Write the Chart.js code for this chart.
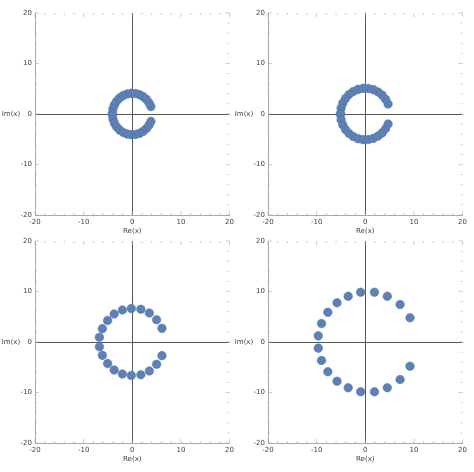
<!DOCTYPE html>
<html>
<head>
<script src="https://cdn.jsdelivr.net/npm/chart.js@4"></script>
<style>
body{margin:0;background:#fff;}
.cell{position:absolute;width:237px;height:236px;}
</style>
</head>
<body>
<div class="cell" style="left:0;top:0"><canvas id="c1" width="237" height="236"></canvas></div>
<div class="cell" style="left:233px;top:0"><canvas id="c2" width="237" height="236"></canvas></div>
<div class="cell" style="left:0;top:228px"><canvas id="c3" width="237" height="236"></canvas></div>
<div class="cell" style="left:233px;top:228px"><canvas id="c4" width="237" height="236"></canvas></div>
<script>
// tick labels shared by every panel
const tickValues = [-20, -10, 0, 10, 20];

// panel 1, r ~ 4
const ptsA = [
 [3.83,1.47],[3.44,2.23],[2.90,2.90],[2.23,3.44],[1.47,3.83],[0.64,4.05],[-0.21,4.09],
 [-1.06,3.96],[-1.86,3.65],[-2.58,3.19],[-3.19,2.58],[-3.65,1.86],[-3.96,1.06],[-4.09,0.21],
 [-4.09,-0.21],[-3.96,-1.06],[-3.65,-1.86],[-3.19,-2.58],[-2.58,-3.19],[-1.86,-3.65],[-1.06,-3.96],
 [-0.21,-4.09],[0.64,-4.05],[1.47,-3.83],[2.23,-3.44],[2.90,-2.90],[3.44,-2.23],[3.83,-1.47]
];
// panel 2, r ~ 5
const ptsB = [
 [4.69,1.99],[4.18,2.93],[3.48,3.73],[2.63,4.37],[1.66,4.82],[0.62,5.06],[-0.44,5.08],
 [-1.49,4.88],[-2.47,4.46],[-3.35,3.85],[-4.07,3.07],[-4.62,2.16],[-4.97,1.15],[-5.10,0.09],
 [-5.10,-0.09],[-4.97,-1.15],[-4.62,-2.16],[-4.07,-3.07],[-3.35,-3.85],[-2.47,-4.46],[-1.49,-4.88],
 [-0.44,-5.08],[0.62,-5.06],[1.66,-4.82],[2.63,-4.37],[3.48,-3.73],[4.18,-2.93],[4.69,-1.99]
];
// panel 3, r ~ 6.6
const ptsC = [
 [6.10,2.70],[5.00,4.40],[3.51,5.74],[1.76,6.49],[-0.20,6.62],[-2.03,6.35],[-3.72,5.54],
 [-5.07,4.26],[-6.15,2.64],[-6.76,0.95],
 [-6.76,-0.95],[-6.15,-2.64],[-5.07,-4.26],[-3.72,-5.54],[-2.03,-6.35],[-0.20,-6.62],
 [1.76,-6.49],[3.51,-5.74],[5.00,-4.40],[6.10,-2.70]
];
// panel 4, r ~ 9.7
const ptsD = [
 [9.19,4.80],[7.16,7.43],[4.53,9.05],[1.89,9.86],[-0.95,9.86],[-3.51,9.05],[-5.81,7.77],
 [-7.70,5.88],[-8.99,3.65],[-9.66,1.22],
 [-9.66,-1.22],[-8.99,-3.65],[-7.70,-5.88],[-5.81,-7.77],[-3.51,-9.05],[-0.95,-9.86],
 [1.89,-9.86],[4.53,-9.05],[7.16,-7.43],[9.19,-4.80]
];

const labelsPlugin = {
  id: 'labels',
  afterDraw(chart) {
    const ctx = chart.ctx, a = chart.chartArea;
    ctx.save();
    ctx.fillStyle = '#444';
    ctx.font = '7px "DejaVu Sans"';
    ctx.textAlign = 'center';
    ctx.textBaseline = 'middle';
    ctx.fillText('Re(x)', (a.left + a.right) / 2, a.bottom + 16);
    ctx.fillText('Im(x)', 11, (a.top + a.bottom) / 2);
    // minor ticks along frame
    ctx.strokeStyle = '#aaa';
    ctx.lineWidth = 0.6;
    const xs = chart.scales.x, ys = chart.scales.y;
    for (let v = -20; v <= 20; v += 2) {
      const len = v % 10 === 0 ? 4 : 2;
      const px = xs.getPixelForValue(v), py = ys.getPixelForValue(v);
      ctx.beginPath();
      ctx.moveTo(px, a.bottom); ctx.lineTo(px, a.bottom - len);
      ctx.moveTo(px, a.top); ctx.lineTo(px, a.top + len);
      ctx.moveTo(a.left, py); ctx.lineTo(a.left + len, py);
      ctx.moveTo(a.right, py); ctx.lineTo(a.right - len, py);
      ctx.stroke();
    }
    ctx.restore();
  }
};

function axis(fit) {
  return {
    type: 'linear', min: -20, max: 20,
    afterBuildTicks: s => { s.ticks = tickValues.map(v => ({ value: v })); },
    afterFit: fit,
    grid: {
      color: c => c.tick && c.tick.value === 0 ? '#555' : 'rgba(0,0,0,0)',
      lineWidth: 1, drawTicks: false
    },
    border: { color: '#aaa', width: 1 },
    ticks: { color: '#444', font: { size: 7, family: 'DejaVu Sans' }, padding: 3, maxRotation: 0 }
  };
}

function panel(id, pts) {
  new Chart(document.getElementById(id), {
    type: 'scatter',
    data: {
      datasets: [{
        data: pts.map(p => ({ x: p[0], y: p[1] })),
        backgroundColor: 'rgb(94,129,181)',
        borderColor: 'rgb(80,112,165)',
        borderWidth: 0.5,
        pointRadius: 4.3
      }]
    },
    options: {
      responsive: false, animation: false,
      layout: { padding: { top: 13, right: 5, left: 0, bottom: 0 } },
      plugins: { legend: { display: false }, tooltip: { enabled: false } },
      scales: {
        x: axis(s => { s.height = 21; }),
        y: axis(s => { s.width = 35; })
      }
    },
    plugins: [labelsPlugin]
  });
}

panel('c1', ptsA);
panel('c2', ptsB);
panel('c3', ptsC);
panel('c4', ptsD);
</script>
</body>
</html>
